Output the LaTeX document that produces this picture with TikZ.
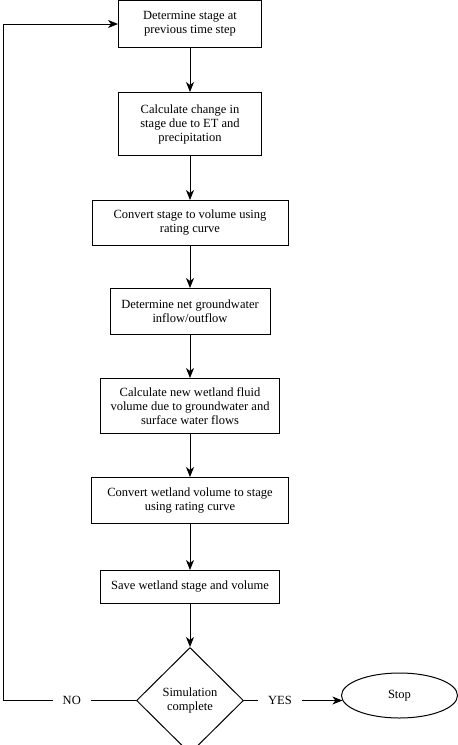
\documentclass[tikz,border=0pt]{standalone}
\usepackage{fontspec}
\setmainfont{Liberation Serif}
\usetikzlibrary{positioning}
\usetikzlibrary{shapes.geometric}
\usetikzlibrary{arrows.meta}

\begin{document}
\begin{tikzpicture}[
  box/.style={draw, line width=1pt, align=center, inner sep=2pt, font=\fontsize{12.5}{14}\selectfont},
  lbl/.style={inner xsep=10pt, font=\fontsize{12.5}{14}\selectfont},
  arr/.style={-{Stealth[length=10pt,width=8pt,inset=3pt]}, line width=1pt}]
\useasboundingbox (0,0) rectangle (458pt,-745pt);

% steps
\node (stage_prev) [box, minimum width=143pt, minimum height=47pt] at (190pt,-24pt) {Determine stage at\\previous time step};
\node (stage_et) [box, minimum width=143pt, minimum height=63pt, below=44pt of stage_prev] {Calculate change in\\stage due to ET and\\precipitation};
\node (stage_vol) [box, minimum width=196pt, minimum height=45pt, below=44pt of stage_et] {Convert stage to volume using\\rating curve};
\node (net_gw) [box, minimum width=160pt, minimum height=46pt, below=42pt of stage_vol] {Determine net groundwater\\inflow/outflow};
\node (new_vol) [box, minimum width=179pt, minimum height=55pt, below=43pt of net_gw] {Calculate new wetland fluid\\volume due to groundwater and\\surface water flows};
\node (vol_stage) [box, minimum width=197pt, minimum height=46pt, below=43pt of new_vol] {Convert wetland volume to stage\\using rating curve};
\node (save_out) [box, minimum width=179pt, minimum height=33pt, below=46pt of vol_stage] {Save wetland stage and volume};

\draw [arr] (stage_prev) -- (stage_et);
\draw [arr] (stage_et) -- (stage_vol);
\draw [arr] (stage_vol) -- (net_gw);
\draw [arr] (net_gw) -- (new_vol);
\draw [arr] (new_vol) -- (vol_stage);
\draw [arr] (vol_stage) -- (save_out);

% decision
\node (sim_done) [box, diamond, aspect=1, inner sep=0pt, minimum width=107pt, minimum height=106pt, below=43pt of save_out] {Simulation\\complete};
\draw [arr] (save_out) -- (sim_done);

\node (no_lbl) [lbl, left=45pt of sim_done.west, anchor=east] {NO};
\node (yes_lbl) [lbl, right=14pt of sim_done.east, anchor=west] {YES};
\node (stop) [box, ellipse, minimum width=116pt, minimum height=45pt, right=97pt of sim_done, yshift=5pt] {Stop};

\coordinate (loop_corner) at (3pt,0 |- sim_done);
\draw [line width=1pt] (sim_done.west) -- (no_lbl.east);
\draw [arr] (no_lbl.west) -- (loop_corner) |- (stage_prev.west);
\draw [line width=1pt] (sim_done.east) -- (yes_lbl.west);
\draw [arr] (yes_lbl.east) -- (yes_lbl.east -| stop.185);
\end{tikzpicture}
\end{document}
